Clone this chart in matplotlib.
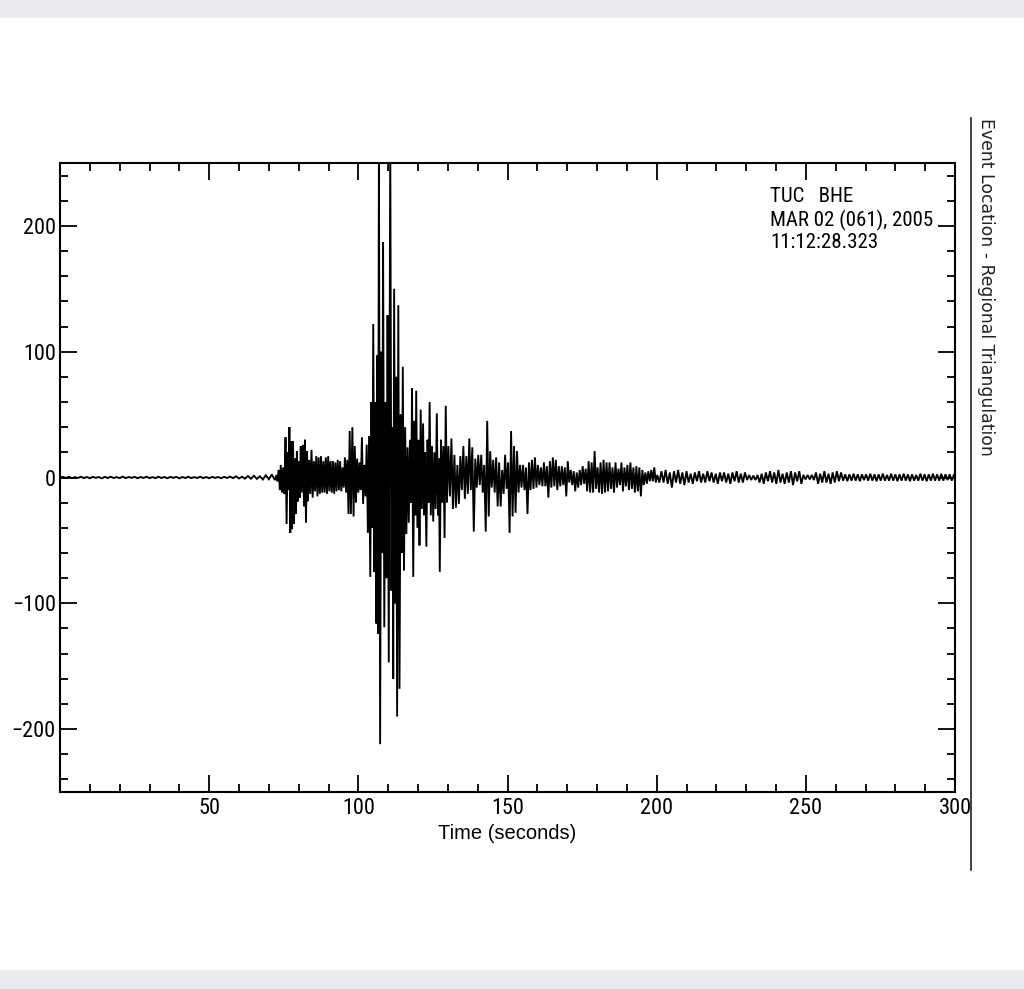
import numpy as np
import matplotlib
matplotlib.use("Agg")
import matplotlib.pyplot as plt
import matplotlib.font_manager as fm
from matplotlib.patches import Rectangle
from matplotlib.lines import Line2D

# ---------------- data ----------------
# quiet pre-event noise, one value per second from t = 0
pre_amp = [0, 0.5, -0.4, 0.6, -0.5, 0.3, -0.4, 0.6, -0.5, 0.4, -0.6, 0.5, -0.3, 0.4,
           -0.7, 0.5, -0.4, 0.6, -0.4, 0.3, -0.5, 0.7, -0.5, 0.4, -0.3, 0.5, -0.6, 0.4,
           -0.4, 0.6, -0.5, 0.3, -0.5, 0.6, -0.4, 0.4, -0.6, 0.5, -0.3, 0.5, -0.7, 0.4,
           -0.4, 0.6, -0.5, 0.3, -0.4, 0.6, -0.5, 0.4, -0.6, 0.5, -0.3, 0.4, -0.6, 0.5,
           -0.4, 0.7, -0.5, 0.9, -0.8, 0.6, -0.9, 1.2, -1.0, 1.4, -1.1, 1.0, -1.6, 1.8,
           -1.4, 2.4, -2.0]
pre_start, pre_step = 0.0, 1.0

# P-wave arrival and coda (explicit peak times)
p_time = [72.6, 72.9, 73.3, 73.7, 74.0, 74.4, 74.8, 75.2, 75.6, 75.95, 76.3, 76.6, 76.9,
          77.2, 77.5, 77.8, 78.1, 78.45, 78.8, 79.1, 79.4, 79.7, 80.0, 80.35, 80.7, 81.0,
          81.4, 81.8, 82.1, 82.45, 82.8, 83.1, 83.5, 83.9, 84.3, 84.7, 85.1, 85.5, 85.9,
          86.3, 86.7, 87.1, 87.5, 87.9, 88.3, 88.7, 89.1, 89.5, 89.9, 90.3, 90.7, 91.1,
          91.5, 91.9, 92.3, 92.7, 93.1, 93.5, 93.9, 94.3, 94.7, 95.1, 95.5, 95.9, 96.3,
          96.7, 97.1, 97.5]
p_amp = [2, -3, 6, -10, 10, -12, 8, -13, 32, -37, 20, -10, 40, -44, 29, -41, 29, -37, 15,
         -29, 21, -19, 13, -16, 25, -12, 26, -23, 30, -36, 21, -19, 14, -13, 22, -16, 13,
         -11, 17, -15, 16, -13, 17, -12, 13, -12, 16, -13, 17, -11, 13, -12, 13, -13, 12,
         -11, 14, -10, 13, -11, 8, -8, 16, -12, 14, -29, 37, -29]

# S-wave / main shaking (explicit peak times)
s_time = [98.0, 98.4, 98.8, 99.2, 99.6, 100.0, 100.4, 100.8, 101.2, 101.6, 102.0, 102.4,
          102.8, 103.2, 103.6, 104.0, 104.4, 104.7, 105.0, 105.4, 105.7, 106.0, 106.3,
          106.6, 106.9, 107.3, 107.7, 108.0, 108.3, 108.7, 109.1, 109.5, 109.8, 110.2,
          110.7, 111.1, 111.4, 111.7, 112.0, 112.4, 112.7, 113.0, 113.4, 113.8, 114.2,
          114.6, 114.9, 115.3, 115.7, 116.1, 116.5, 116.9, 117.3, 117.7, 118.0, 118.4,
          118.8, 119.1, 119.4, 119.8, 120.2, 120.5, 120.9, 121.3, 121.7, 122.1, 122.4,
          122.8, 123.2, 123.5, 123.9, 124.3, 124.7, 125.1, 125.5, 125.9, 126.3, 126.7,
          127.0, 127.3, 127.7, 128.1, 128.5, 128.9, 129.3]
s_amp = [40, -31, 25, -20, 15, -12, 12, -10, 32, -21, 10, -15, 26, -44, 33, -79, 60, -40,
         122, -75, 60, -116, 97, -124, 270, -212, 100, -60, 187, -119, 60, -80, 129, -147,
         275, -90, 40, -160, 150, -100, 80, -190, 137, -168, 50, -60, 88, -74, 40, -45, 24,
         -36, 30, -20, 71, -79, 45, -30, 69, -40, 30, -54, 54, -25, 43, -30, 20, -55, 30,
         -20, 60, -30, 25, -35, 20, -25, 51, -30, 15, -75, 30, -20, 25, -48, 57]

# surface-wave coda, one peak every 0.5 s from t = 129.7
coda_amp = [-20, 25, -15, 31, -25, 18, -24, 10, -21, 17, -10, 25, -17, 17, -13, 31, -10, 24,
            -43, 15, -8, 18, -6, 18, -12, 10, -43, 45, -31, 21, -8, 14, -12, 16, -23, 12,
            -23, 6, -13, 18, -9, 12, -44, 37, -31, 25, -28, 21, -12, 10, -8, 10, -10, 8,
            -29, 12, -10, 14, -9, 16, -8, 10, -6, 8, -7, 12, -7, 9, -16, 13, -8, 16, -7,
            14, -10, 9, -7, 9, -6, 8, -15, 13, -4, 6, -6, 5, -11, 4, -8, 6, -6, 9, -5, 7,
            -11, 13, -12, 12, -12, 21, -9, 8, -12, 12, -13, 14, -12, 12, -11, 12, -9, 8,
            -12, 12, -8, 7, -6, 12, -11, 8, -7, 10, -10, 12, -9, 8, -12, 9, -11, 8, -15, 6,
            -6, 4, -5, 5, -3, 6, -3, 8, -4]
coda_start, coda_step = 129.7, 0.5

# late tail, one peak every 0.7 s from t = 200.2
tail_amp = [2, -4, 5, -4, 6, -5, 4, -8, 5, -4, 6, -5, 4, -6, 5,
            -4, 3, -5, 4, -3, 5, -4, 3, -4, 5, -3, 4, -4, 3, -5, 4, -3, 4, -4, 3, -5, 4,
            -3, 5, -4, 3, -4, 4,
            -2, 2, -2, 1.5, -2, 2,
            -4, 3, -5, 4, -3, 5, -4, 4, -5, 6, -4, 3, -5, 4, -4, 5, -6, 4, -3, 5, -5,
            2, -1.5, 2, -1.5, 2, -2,
            4, -5, 3, -4, 5, -4, 3, -5, 4, -4, 5, -3, 4,
            -2.5, 2.5, -3, 2.5, -2.5, 3, -2.5, 2.5, -3, 2.5, -2, 2.5, -2.5, 3, -2.5, 2.5,
            -3, 2.5, -2.5, 3, -2.5, 2, -2.5, 3, -2.5, 2.5, -3, 2.5, -2.5, 3, -2.5, 2.5,
            -3, 2.5, -2.5, 2, -2.5, 3, -2.5, 2.5, -3, 2.5, -2.5, 3, -2.5, 2.5, -2.5, 3,
            -2.5, 2.5, -2, 2.5, -2.5, 2]
tail_start, tail_step = 200.2, 0.7

x_ticks = [50, 100, 150, 200, 250, 300]
y_ticks = [-200, -100, 0, 100, 200]
station_lines = ["TUC   BHE", "MAR 02 (061), 2005", "11:12:28.323"]
side_title = "Event Location - Regional Triangulation"
x_label = "Time (seconds)"


# ---------------- pick a narrow sans font if one is installed ----------------
def pick_narrow():
    wanted = ["liberation sans narrow", "roboto condensed", "dejavu sans condensed",
              "open sans condensed", "noto sans condensed", "arial narrow"]
    cands = []
    for f in fm.fontManager.ttflist:
        name = f.name.lower()
        stretch = str(f.stretch).lower()
        if str(f.weight).lower() not in ("400", "normal", "regular", "book"):
            continue
        if str(f.style).lower() != "normal":
            continue
        if "mono" in name or ("serif" in name and "sans" not in name):
            continue
        key = None
        for i, w in enumerate(wanted):
            if name == w or (w.replace(" condensed", "") == name and "condensed" in stretch
                             and "semi" not in stretch):
                key = i
                break
        if key is None and ("narrow" in name or "condensed" in name
                            or (stretch in ("condensed", "extra-condensed"))):
            key = len(wanted)
        if key is not None:
            cands.append((key, f.fname))
    if cands:
        cands.sort()
        return fm.FontProperties(fname=cands[0][1]), True
    return fm.FontProperties(family="Liberation Sans"), False


narrow_fp, is_narrow = pick_narrow()
label_size = 16 if is_narrow else 13
note_size = 15 if is_narrow else 13

# ---------------- assemble trace ----------------
pre_t = pre_start + pre_step * np.arange(len(pre_amp))
coda_t = coda_start + coda_step * np.arange(len(coda_amp))
tail_t = tail_start + tail_step * np.arange(len(tail_amp))
t = np.concatenate([pre_t, p_time, s_time, coda_t, tail_t])
a = np.concatenate([pre_amp, p_amp, s_amp, coda_amp, tail_amp])

# ---------------- figure ----------------
W, H = 1024, 989
fig = plt.figure(figsize=(W / 100, H / 100), dpi=100)
fig.patch.set_facecolor("white")

fig.add_artist(Rectangle((0, 1 - 18 / H), 1, 18 / H, transform=fig.transFigure,
                         facecolor="#ebebef", edgecolor="none", zorder=0))
fig.add_artist(Rectangle((0, 0), 1, 19 / H, transform=fig.transFigure,
                         facecolor="#ebebef", edgecolor="none", zorder=0))

ax = fig.add_axes([60 / W, (H - 792) / H, (955 - 60) / W, (792 - 163) / H])
ax.plot(t, a, color="black", lw=1.35, solid_joinstyle="miter")
ax.set_xlim(0, 300)
ax.set_ylim(-250, 250)

ax.set_xticks(x_ticks)
ax.set_yticks(y_ticks)
ax.set_xticks(np.arange(10, 300, 10), minor=True)
ax.set_yticks(np.arange(-240, 250, 20), minor=True)
ax.tick_params(which="both", direction="in", top=True, right=True, width=1.3,
               color="black")
ax.tick_params(which="major", length=12)
ax.tick_params(axis="y", which="major", pad=3)
ax.tick_params(axis="x", which="major", pad=4)
ax.tick_params(which="minor", length=6)
for lab in ax.get_xticklabels() + ax.get_yticklabels():
    lab.set_fontproperties(narrow_fp)
    lab.set_fontsize(label_size)
for s in ax.spines.values():
    s.set_linewidth(1.5)

ax.set_xlabel(x_label, fontsize=14.5, family=["Liberation Sans", "DejaVu Sans"],
              labelpad=4)

for i, line in enumerate(station_lines):
    txt = ax.text(770 / W, 1 - (197 + 23 * i) / H, line, transform=fig.transFigure,
                  va="center", ha="left")
    txt.set_fontproperties(narrow_fp)
    txt.set_fontsize(note_size)

fig.add_artist(Line2D([971 / W, 971 / W], [1 - 118 / H, 1 - 870 / H],
                      transform=fig.transFigure, color="#333333", lw=1.3))
fig.text(986 / W, 1 - 118 / H, side_title, rotation=270, fontsize=12.4,
         family=["DejaVu Sans"], color="#222222", ha="center", va="top")

fig.savefig("out.png", dpi=100, facecolor=fig.get_facecolor())
